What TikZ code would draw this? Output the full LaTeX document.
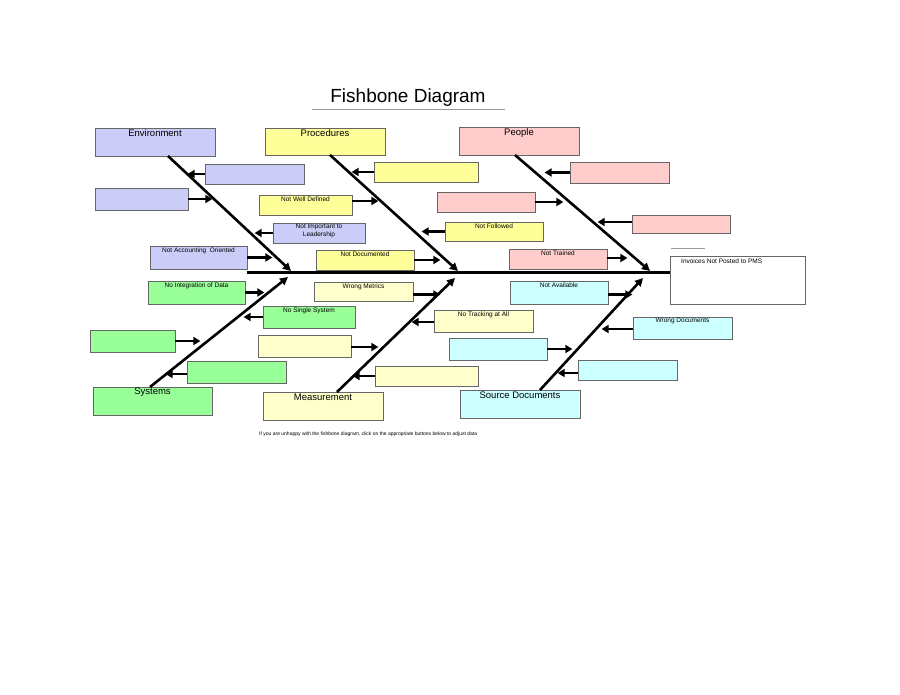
\documentclass[tikz,border=0pt]{standalone}
\usepackage{fontspec}
\setmainfont{Liberation Sans}
\usetikzlibrary{arrows.meta}
\newcommand{\fbx}[7]{%
  \pgfmathsetmacro{\bw}{#4-#2}\pgfmathsetmacro{\bh}{#5-#3}%
  \node[cbox,fill=#6,minimum width=\bw pt,minimum height=\bh pt] (#1) at ({(#2+#4)/2},{(#3+#5)/2}) {};
  \node[lbl,anchor=north] at (#1.north) {#7};}
\begin{document}
\begin{tikzpicture}[x=1pt,y=-1pt,
  cbox/.style={draw=black!60,line width=0.8pt,inner sep=0pt},
  lbl/.style={font=\fontsize{6.5}{7.5}\selectfont,inner sep=1.5pt,align=center},
  cat/.style={font=\fontsize{9.5}{11}\selectfont,inner sep=1.5pt},
  arr/.style={line width=2.6pt,-{Triangle[length=7pt,width=8pt]}},
  bone/.style={line width=2.6pt,-{Triangle[length=8pt,width=8pt]}}]
\useasboundingbox[fill=white] (0,0) rectangle (900,695);
% title
\node[font=\fontsize{19}{22}\selectfont,inner sep=0pt] (title) at (408,98) {Fishbone Diagram};
\draw[black!40,line width=0.8pt] (312,109) -- (505,109);
% spine and effect
\coordinate (s0) at (247,273);
\coordinate (s1) at (670,273);
\draw[line width=3pt] (s0) -- (s1);
\node[draw=black!60,line width=1pt,minimum width=135pt,minimum height=47pt,inner sep=0pt] (eff) at (737.5,280.5) {};
\node[lbl,anchor=north west] at ([xshift=10pt,yshift=-1pt]eff.north west) {Invoices Not Posted to PMS};
\draw[black!40,line width=0.8pt] (671,248) -- (705,248);
% colours
\definecolor{cblue}{HTML}{CCCCF8}
\definecolor{cyel}{HTML}{FFFF99}
\definecolor{cpink}{HTML}{FFCCCC}
\definecolor{cgreen}{HTML}{99FF99}
\definecolor{clyel}{HTML}{FFFFCC}
\definecolor{ccyan}{HTML}{CCFFFF}
% categories
\fbx{env}{95}{128}{215}{156}{cblue}{}
\node[cat,anchor=north] at (env.north) {Environment};
\fbx{proc}{265}{128}{385}{155}{cyel}{}
\node[cat,anchor=north] at (proc.north) {Procedures};
\fbx{peop}{459}{127}{579}{155}{cpink}{}
\node[cat,anchor=north] at (peop.north) {People};
\fbx{sys}{93}{387}{212}{415}{cgreen}{}
\node[cat,anchor=north] at (sys.north) {Systems};
\fbx{meas}{263}{392}{383}{420}{clyel}{}
\node[cat,anchor=north] at ([yshift=-1pt]meas.north) {Measurement};
\fbx{src}{460}{390}{580}{418}{ccyan}{}
\node[cat,anchor=north] at ([yshift=-1pt]src.north) {Source Documents};
% bones
\coordinate (e1) at (291,271);
\coordinate (p1) at (458,271);
\coordinate (q1) at (650,271);
\coordinate (y1) at (288,277);
\coordinate (m1) at (455,278);
\coordinate (d1) at (643,278);
\draw[bone] (168,156) -- (e1);
\draw[bone] (330,155) -- (p1);
\draw[bone] (515,155) -- (q1);
\draw[bone] (150,387) -- (y1);
\draw[bone] (337,392) -- (m1);
\draw[bone] (540,390) -- (d1);
% environment causes
\fbx{ea}{205}{164}{304}{184}{cblue}{}
\draw[arr] (ea.west) -- ++(-17,0);
\fbx{eb}{95}{188}{188}{210}{cblue}{}
\draw[arr] (eb.east) -- ++(24,0);
\fbx{ec}{273}{223}{365}{243}{cblue}{Not Important to\\Leadership}
\draw[arr] (ec.west) -- ++(-18,0);
\fbx{ed}{150}{246}{247}{269}{cblue}{Not Accounting\ \ Oriented}
\draw[arr] (ed.east) -- ++(25,0);
% procedures causes
\fbx{pa}{374}{162}{478}{182}{cyel}{}
\draw[arr] (pa.west) -- ++(-22,0);
\fbx{pb}{259}{195}{352}{215}{cyel}{Not Well Defined}
\draw[arr] ([yshift=4pt]pb.east) -- ++(26,0);
\fbx{pc}{316}{250}{414}{270}{cyel}{Not Documented}
\draw[arr] (pc.east) -- ++(26,0);
\fbx{pd}{445}{222}{543}{241}{cyel}{Not Followed}
\draw[arr] (pd.west) -- ++(-23,0);
% people causes
\fbx{qa}{570}{162}{669}{183}{cpink}{}
\draw[arr] (qa.west) -- ++(-25,0);
\fbx{qb}{437}{192}{535}{212}{cpink}{}
\draw[arr] (qb.east) -- ++(28,0);
\fbx{qc}{632}{215}{730}{233}{cpink}{}
\draw[arr] ([yshift=2pt]qc.west) -- ++(-34,0);
\fbx{qd}{509}{249}{607}{269}{cpink}{Not Trained}
\draw[arr] ([yshift=1pt]qd.east) -- ++(20,0);
% systems causes
\fbx{ya}{148}{281}{245}{304}{cgreen}{No Integration of Data}
\draw[arr] (ya.east) -- ++(19,0);
\fbx{yb}{263}{306}{355}{328}{cgreen}{No Single System}
\draw[arr] (yb.west) -- ++(-19,0);
\fbx{yc}{90}{330}{175}{352}{cgreen}{}
\draw[arr] (yc.east) -- ++(25,0);
\fbx{yd}{187}{361}{286}{383}{cgreen}{}
\draw[arr] ([yshift=-2pt]yd.west) -- ++(-21,0);
% measurement causes
\fbx{ma}{314}{282}{413}{301}{clyel}{Wrong Metrics}
\draw[arr] ([yshift=-3pt]ma.east) -- ++(27,0);
\fbx{mb}{434}{310}{533}{332}{clyel}{No Tracking at All}
\draw[arr] ([yshift=-1pt]mb.west) -- ++(-22,0);
\fbx{mc}{258}{335}{351}{357}{clyel}{}
\draw[arr] ([yshift=-1pt]mc.east) -- ++(27,0);
\fbx{md}{375}{366}{478}{386}{clyel}{}
\draw[arr] (md.west) -- ++(-22,0);
% source causes
\fbx{da}{510}{281}{608}{304}{ccyan}{Not Available}
\draw[arr] ([yshift=-2pt]da.east) -- ++(24,0);
\fbx{db}{633}{317}{732}{339}{ccyan}{Wrong Documents}
\draw[arr] ([yshift=-1pt]db.west) -- ++(-31,0);
\fbx{dc}{449}{338}{547}{360}{ccyan}{}
\draw[arr] (dc.east) -- ++(25,0);
\fbx{dd}{578}{360}{677}{380}{ccyan}{}
\draw[arr] ([yshift=-3pt]dd.west) -- ++(-20,0);
% footnote
\node[font=\fontsize{5}{6}\selectfont,anchor=west,inner sep=0pt] (note) at (259,434) {If you are unhappy with the fishbone diagram, click on the appropriate buttons below to adjust data};
\end{tikzpicture}
\end{document}
